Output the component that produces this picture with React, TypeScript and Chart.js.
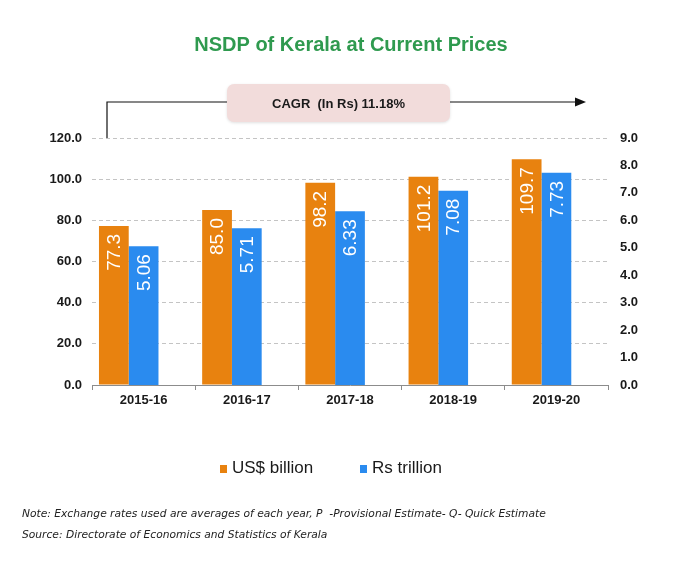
import { useEffect, useRef } from 'react';
import { Chart, registerables } from 'chart.js';

Chart.register(...registerables);

// Net State Domestic Product of Kerala, current prices
const categories = ['2015-16', '2016-17', '2017-18', '2018-19', '2019-20'];
const usdBillion = [77.3, 85.0, 98.2, 101.2, 109.7];
const rsTrillion = [5.06, 5.71, 6.33, 7.08, 7.73];
// an empty third slot keeps each pair to the left of its category centre
const spacer = [null, null, null, null, null];

const seriesNames = ['US$ billion', 'Rs trillion'];
const seriesColors = ['#e8820f', '#2a8bef'];

const leftAxisMax = 120;
const leftAxisStep = 20;
const rightAxisMax = 9;
const rightAxisStep = 1;

const titleText = 'NSDP of Kerala at Current Prices';
const cagrText = 'CAGR  (In Rs) 11.18%';
const noteLines = [
  'Note: Exchange rates used are averages of each year, P  -Provisional Estimate- Q- Quick Estimate',
  'Source: Directorate of Economics and Statistics of Kerala',
];

const SANS = '"Liberation Sans", Arial, sans-serif';

const decorations = {
  id: 'decorations',
  afterDatasetsDraw(chart: any) {
    const ctx = chart.ctx;
    [0, 1].forEach((di) => {
      const meta = chart.getDatasetMeta(di);
      meta.data.forEach((bar: any, i: number) => {
        const v = chart.data.datasets[di].data[i] as number;
        const text = di === 0 ? v.toFixed(1) : v.toFixed(2);
        ctx.save();
        ctx.translate(bar.x, bar.y + 8);
        ctx.rotate(-Math.PI / 2);
        ctx.font = `19px ${SANS}`;
        ctx.fillStyle = '#ffffff';
        ctx.textAlign = 'right';
        ctx.textBaseline = 'middle';
        ctx.fillText(text, 0, 1);
        ctx.restore();
      });
    });
  },
  afterDraw(chart: any) {
    const ctx = chart.ctx;
    const area = chart.chartArea;
    ctx.save();

    // title
    ctx.font = `bold 20px ${SANS}`;
    ctx.fillStyle = '#2f9a4f';
    ctx.textAlign = 'center';
    ctx.textBaseline = 'middle';
    ctx.fillText(titleText, 351, 45);

    // CAGR bracket with arrow
    const lineY = 102;
    const boxL = 227, boxR = 450, boxT = 84, boxB = 122;
    ctx.strokeStyle = '#111';
    ctx.lineWidth = 1.2;
    ctx.beginPath();
    ctx.moveTo(107, area.top);
    ctx.lineTo(107, lineY);
    ctx.lineTo(boxL, lineY);
    ctx.moveTo(boxR, lineY);
    ctx.lineTo(577, lineY);
    ctx.stroke();
    ctx.fillStyle = '#111';
    ctx.beginPath();
    ctx.moveTo(586, lineY);
    ctx.lineTo(575, lineY - 4.5);
    ctx.lineTo(575, lineY + 4.5);
    ctx.closePath();
    ctx.fill();

    ctx.shadowColor = 'rgba(0,0,0,0.12)';
    ctx.shadowBlur = 3;
    ctx.shadowOffsetY = 1;
    ctx.fillStyle = '#f2dcdb';
    ctx.beginPath();
    ctx.roundRect(boxL, boxT, boxR - boxL, boxB - boxT, 7);
    ctx.fill();
    ctx.shadowColor = 'rgba(0,0,0,0)';
    ctx.font = `bold 13px ${SANS}`;
    ctx.fillStyle = '#1a1a1a';
    ctx.textAlign = 'center';
    ctx.fillText(cagrText, (boxL + boxR) / 2, 104);

    // legend
    const legendItems = [
      { x: 220, name: seriesNames[0], color: seriesColors[0] },
      { x: 360, name: seriesNames[1], color: seriesColors[1] },
    ];
    ctx.font = `17px ${SANS}`;
    ctx.textAlign = 'left';
    legendItems.forEach((it) => {
      ctx.fillStyle = it.color;
      ctx.fillRect(it.x, 465, 7, 8);
      ctx.fillStyle = '#1a1a1a';
      ctx.fillText(it.name, it.x + 12, 468);
    });

    // notes
    ctx.font = `italic 10.7px "DejaVu Sans", sans-serif`;
    ctx.fillStyle = '#222';
    ctx.fillText(noteLines[0], 22, 514);
    ctx.fillText(noteLines[1], 22, 535);

    ctx.restore();
  },
};

export default function App() {
  const canvasRef = useRef<HTMLCanvasElement | null>(null);

  useEffect(() => {
    const canvas = canvasRef.current;
    if (!canvas) return;
    const tickFont = { family: SANS, size: 13, weight: 'bold' as const };
    const chart = new Chart(canvas, {
      type: 'bar',
      data: {
        labels: categories,
        datasets: [
          {
            label: seriesNames[0],
            data: usdBillion,
            backgroundColor: seriesColors[0],
            yAxisID: 'y',
            categoryPercentage: 0.865,
            barPercentage: 1,
          },
          {
            label: seriesNames[1],
            data: rsTrillion,
            backgroundColor: seriesColors[1],
            yAxisID: 'y1',
            categoryPercentage: 0.865,
            barPercentage: 1,
          },
          {
            label: 'spacer',
            data: spacer,
            backgroundColor: 'rgba(0,0,0,0)',
            yAxisID: 'y',
            categoryPercentage: 0.865,
            barPercentage: 1,
          },
        ],
      },
      options: {
        responsive: false,
        animation: false,
        devicePixelRatio: 1,
        layout: { padding: { top: 138, left: 0, right: 0, bottom: 0 } },
        plugins: {
          legend: { display: false },
          title: { display: false },
          tooltip: { enabled: false },
        },
        scales: {
          x: {
            afterFit: (s: any) => {
              s.height = 190;
            },
            border: { display: true, color: '#8c8c8c', width: 1 },
            grid: {
              display: true,
              drawOnChartArea: false,
              drawTicks: true,
              tickLength: 5,
              color: '#8c8c8c',
              offset: true,
            },
            ticks: { color: '#1a1a1a', font: tickFont, padding: 3 },
          },
          y: {
            position: 'left',
            min: 0,
            max: leftAxisMax,
            afterFit: (s: any) => {
              s.width = 92;
            },
            border: { display: false, dash: [4, 3] },
            grid: {
              color: '#c4c4c4',
              drawTicks: false,
            },
            ticks: {
              stepSize: leftAxisStep,
              color: '#1a1a1a',
              font: tickFont,
              padding: 10,
              callback: (v: any) => Number(v).toFixed(1),
            },
          },
          y1: {
            position: 'right',
            min: 0,
            max: rightAxisMax,
            afterFit: (s: any) => {
              s.width = 68;
            },
            border: { display: false },
            grid: { display: false, drawTicks: false },
            ticks: {
              stepSize: rightAxisStep,
              color: '#1a1a1a',
              font: tickFont,
              padding: 12,
              callback: (v: any) => Number(v).toFixed(1),
            },
          },
        },
      },
      plugins: [decorations],
    } as any);
    return () => chart.destroy();
  }, []);

  return (
    <div style={{ position: 'fixed', left: 0, top: 0, width: 676, height: 575, background: '#fff' }}>
      <canvas ref={canvasRef} width={676} height={575} />
    </div>
  );
}
